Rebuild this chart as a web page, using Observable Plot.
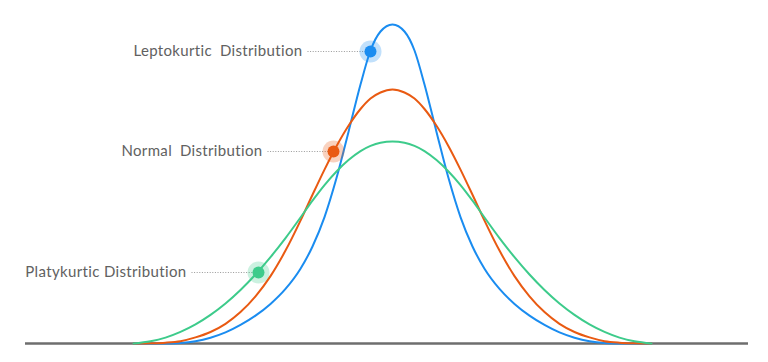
<!DOCTYPE html>
<html>
<head>
<meta charset="utf-8">
<script src="https://cdn.jsdelivr.net/npm/d3@7"></script>
<script src="https://cdn.jsdelivr.net/npm/@observablehq/plot@0.6"></script>
<style>
  html, body { margin: 0; padding: 0; background: #fff; }
</style>
</head>
<body>
<div id="chart"></div>
<script>
// x positions along the horizontal axis (chart units)
const xs = [133,150,165,180,195,210,225,240,255,270,285,300,312,324,336,348,360,370,380,392,404,414,424,436,448,460,472,484,499,514,529,544,559,574,589,604,619,634,651];

// curve heights above the baseline
const leptokurtic = [0,0,0.1,0.6,2.3,5.8,11.1,18.6,27.9,39.6,54.6,74.8,97,126.4,165.4,211.6,259,293,312,319,312,293,259,211.6,165.4,126.4,97,74.8,54.6,39.6,27.9,18.6,11.1,5.8,2.3,0.6,0.1,0,0];
const normal      = [0,0.25,0.85,2.35,6.1,11.5,19.7,31.4,47.2,67.4,92.9,122.9,148.7,173.9,197.3,217.7,234.5,245,251,254,251,245,234.5,217.7,197.3,173.9,148.7,122.9,92.9,67.4,47.2,31.4,19.7,11.5,6.1,2.35,0.85,0.25,0];
const platykurtic = [0,2.2,5.9,11.6,19.1,28.6,40,53.5,69,86.4,105.4,126,142.8,158.4,172,183.4,192.4,197.6,200.8,202,200.8,197.6,192.4,183.4,172,158.4,142.8,126,105.4,86.4,69,53.5,40,28.6,19.1,11.6,5.9,2.2,0];

// labelled markers
const labels     = ["Leptokurtic\u2002Distribution", "Normal\u2002Distribution", "Platykurtic Distribution"];
const markerX    = [370, 333, 258];
const markerY    = [292, 192, 71];
const labelEndX  = [302, 262, 186];
const colors     = ["#1a8cf0", "#e95a12", "#3dcb8b"];
const axisExtent = [25, 748];

const series = [
  {name: "Leptokurtic", values: leptokurtic, color: colors[0]},
  {name: "Normal", values: normal, color: colors[1]},
  {name: "Platykurtic", values: platykurtic, color: colors[2]}
];

const rows = series.flatMap(s => xs.map((x, i) => ({series: s.name, x, y: s.values[i], color: s.color})));
const markers = labels.map((label, i) => ({label, x: markerX[i], y: markerY[i], lx: labelEndX[i], color: colors[i]}));

const chart = Plot.plot({
  width: 768,
  height: 362,
  marginLeft: 0,
  marginRight: 0,
  marginTop: 0,
  marginBottom: 19,
  x: {domain: [0, 768], axis: null},
  y: {domain: [0, 343], axis: null},
  style: {fontFamily: "Lato, sans-serif", background: "#fff", letterSpacing: "0.35px"},
  marks: [
    Plot.ruleY([0], {x1: axisExtent[0], x2: axisExtent[1], stroke: "#6e6e6e", strokeWidth: 2.5}),
    Plot.line(rows, {x: "x", y: "y", z: "series", stroke: "color", strokeWidth: 2, curve: "monotone-x"}),
    Plot.link(markers, {x1: d => d.lx + 5, x2: "x", y1: "y", y2: "y", stroke: "#999", strokeWidth: 1, strokeDasharray: "1,1.6"}),
    Plot.dot(markers, {x: "x", y: "y", r: 11, fill: "color", fillOpacity: 0.27}),
    Plot.dot(markers, {x: "x", y: "y", r: 6, fill: "color"}),
    Plot.text(markers, {x: "lx", y: "y", text: "label", textAnchor: "end", fontSize: 15, fill: "#616161"})
  ]
});
document.getElementById("chart").appendChild(chart);
</script>
</body>
</html>
